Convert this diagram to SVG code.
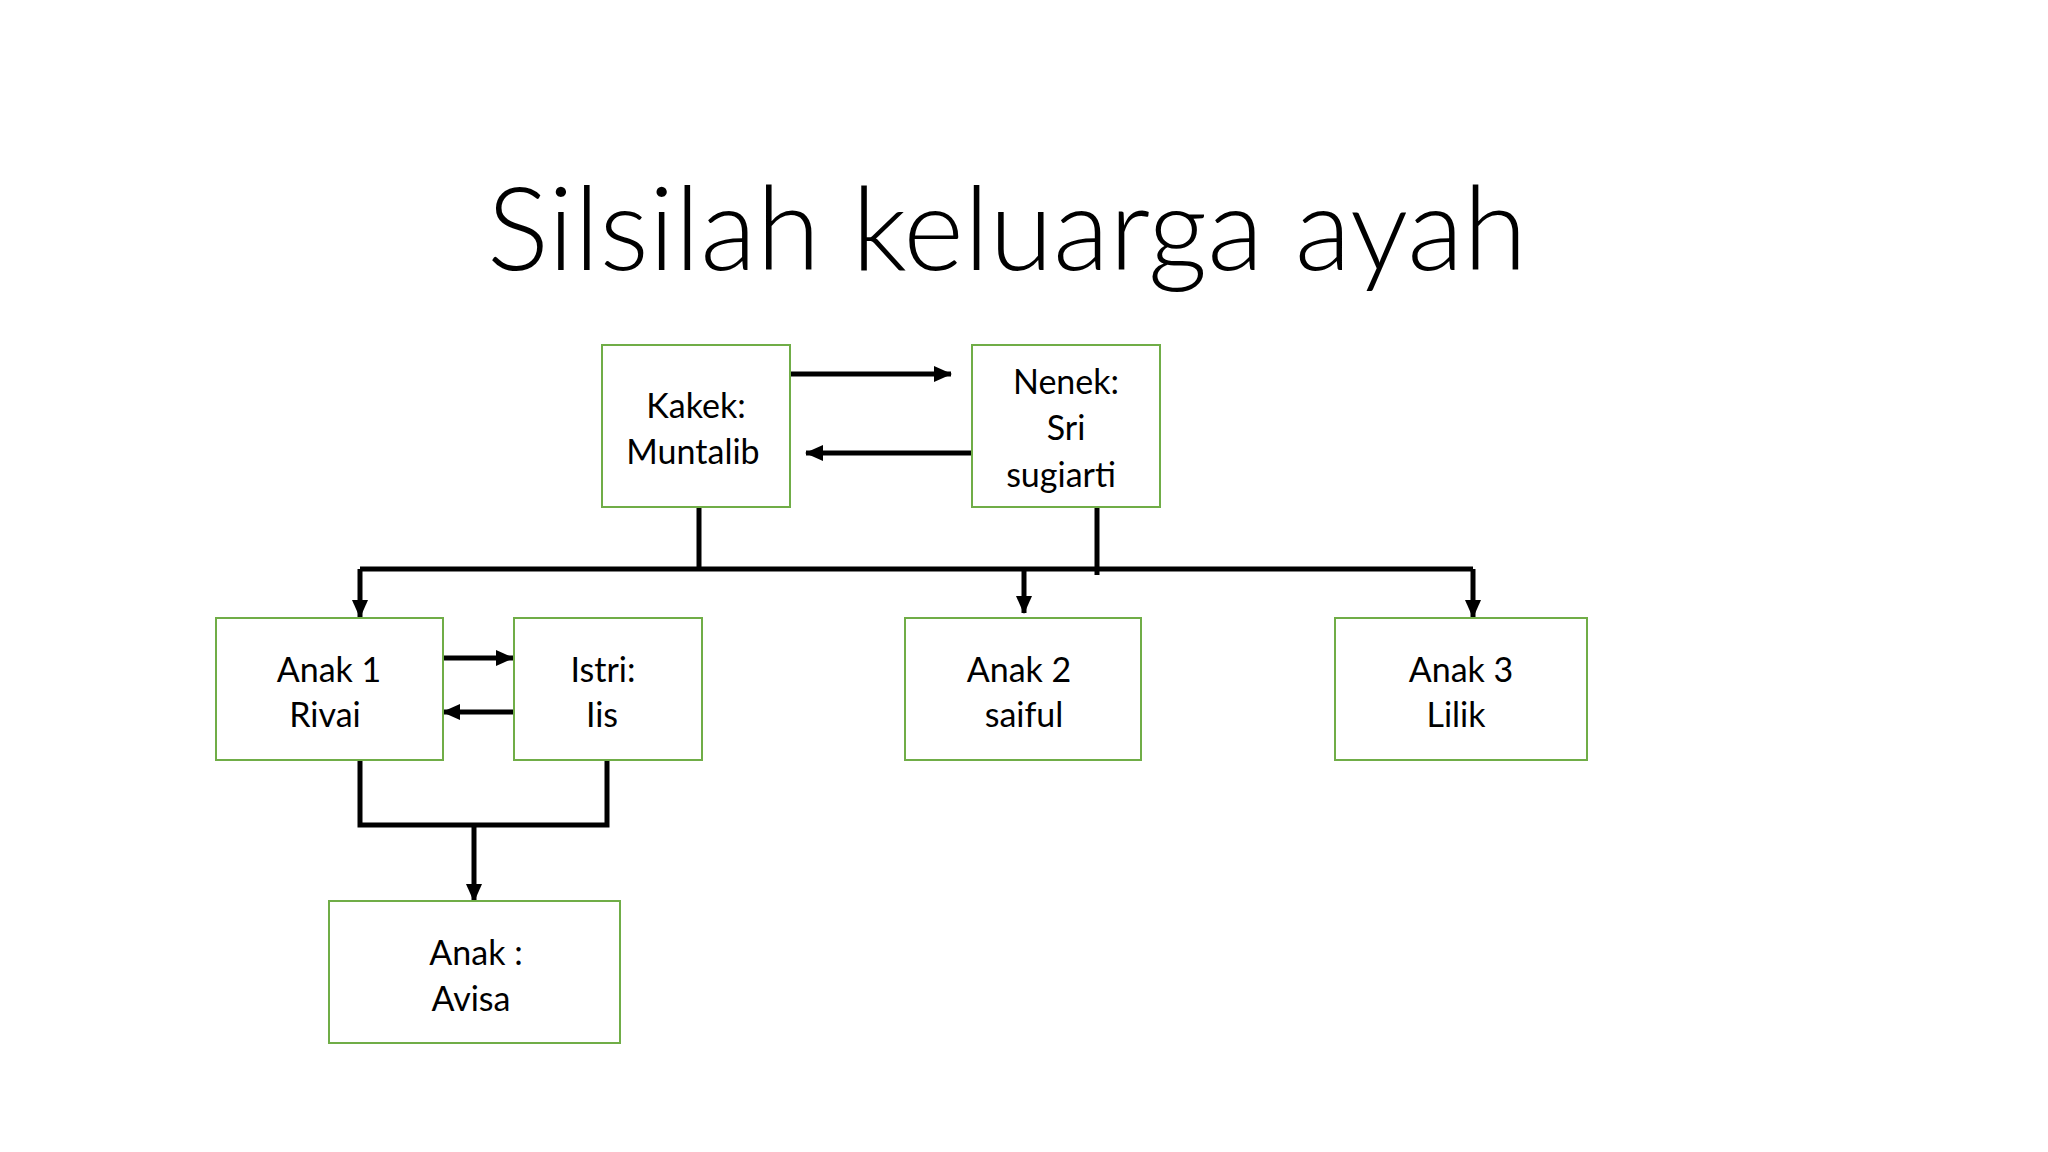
<svg xmlns="http://www.w3.org/2000/svg" width="2048" height="1152" viewBox="0 0 2048 1152">
<style>
.box{fill:#fff;stroke:#70AD47;stroke-width:2}
.t{font-family:Lato,"Open Sans",sans-serif;font-size:34px;fill:#000;text-anchor:middle}
.c{stroke:#000;stroke-width:5;fill:none}
</style>
<defs>
<marker id="ah" markerUnits="userSpaceOnUse" markerWidth="18" markerHeight="16" refX="17" refY="8" orient="auto">
<path d="M0,0 L18,8 L0,16 Z" fill="#000"/>
</marker>
</defs>
<rect width="2048" height="1152" fill="#fff"/>
<text x="1007" y="270" font-family="Lato,'Open Sans',sans-serif" font-weight="300" font-size="116" text-anchor="middle">Silsilah keluarga ayah</text>
<g id="connectors">
<path class="c" d="M790,374 H951" marker-end="url(#ah)"/>
<path class="c" d="M972,453 H806" marker-end="url(#ah)"/>
<path class="c" d="M699,507 V569"/>
<path class="c" d="M1097,507 V575"/>
<path class="c" d="M360,569 H1473"/>
<path class="c" d="M360,569 V617" marker-end="url(#ah)"/>
<path class="c" d="M1024,569 V613" marker-end="url(#ah)"/>
<path class="c" d="M1473,569 V617" marker-end="url(#ah)"/>
<path class="c" d="M443,658 H513" marker-end="url(#ah)"/>
<path class="c" d="M513,712 H443" marker-end="url(#ah)"/>
<path class="c" d="M360,760 V825 H607 V760"/>
<path class="c" d="M474,825 V901" marker-end="url(#ah)"/>
</g>
<g id="kakek"><rect class="box" x="602" y="345" width="188" height="162"/><text class="t" x="696" y="418">Kakek:</text><text class="t" x="693" y="464">Muntalib</text></g>
<g id="nenek"><rect class="box" x="972" y="345" width="188" height="162"/><text class="t" x="1066" y="394">Nenek:</text><text class="t" x="1066" y="440">Sri</text><text class="t" x="1061" y="487">sugiarti</text></g>
<g id="anak1"><rect class="box" x="216" y="618" width="227" height="142"/><text class="t" x="329" y="682">Anak 1</text><text class="t" x="325" y="727">Rivai</text></g>
<g id="istri"><rect class="box" x="514" y="618" width="188" height="142"/><text class="t" x="603" y="682">Istri:</text><text class="t" x="602" y="727">Iis</text></g>
<g id="anak2"><rect class="box" x="905" y="618" width="236" height="142"/><text class="t" x="1019" y="682">Anak 2</text><text class="t" x="1024" y="727">saiful</text></g>
<g id="anak3"><rect class="box" x="1335" y="618" width="252" height="142"/><text class="t" x="1461" y="682">Anak 3</text><text class="t" x="1456" y="727">Lilik</text></g>
<g id="avisa"><rect class="box" x="329" y="901" width="291" height="142"/><text class="t" x="476" y="965">Anak :</text><text class="t" x="471" y="1011">Avisa</text></g>
</svg>
